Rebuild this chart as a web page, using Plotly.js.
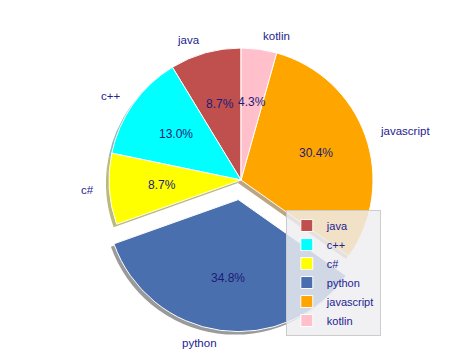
<!DOCTYPE html>
<html><head><meta charset="utf-8">
<script src="https://cdn.plot.ly/plotly-3.0.1.min.js"></script>
<style>html,body{margin:0;padding:0;background:#fff}#c{width:474px;height:356px}</style>
</head><body><div id="c"></div>
<script>
const labels = ["java", "c++", "c#", "python", "javascript", "kotlin"];
const counts = [2, 3, 2, 8, 7, 1];
const pulls = [0, 0, 0, 0.15, 0, 0];
const colors = ["#c0504d", "#00ffff", "#ffff00", "#4a6fae", "#ffa500", "#ffc0cb"];
const shadowColors = ["#8a5a58", "#5a9e9e", "#9e9e4a", "#707070", "#a08050", "#a08a8c"];

// layout geometry (pixels)
const W = 474, H = 356, CX = 241, CY = 180, R = 132;
const maxPull = Math.max(...pulls);
const half = R * (1 + maxPull);
const dom = {x: [(CX - half) / W, (CX + half) / W], y: [1 - (CY + half) / H, 1 - (CY - half) / H]};
const sx = 3 / W, sy = 3 / H;

const total = counts.reduce((a, b) => a + b, 0);
const rot = -360 * counts[0] / total;
const base = {type: "pie", labels: labels, values: counts, sort: false,
  direction: "counterclockwise", rotation: rot, pull: pulls, hoverinfo: "none"};

const shadow = Object.assign({}, base, {
  domain: {x: [dom.x[0] - sx, dom.x[1] - sx], y: [dom.y[0] - sy, dom.y[1] - sy]},
  marker: {colors: shadowColors, line: {width: 0}},
  opacity: 0.7, textinfo: "none", showlegend: false
});
const main = Object.assign({}, base, {
  domain: dom,
  marker: {colors: colors, line: {color: "#ffffff", width: 1}},
  textinfo: "none", showlegend: true
});

// text positions follow the wedge geometry (labels at 1.1R, percentages at 0.6R)
const font = "Liberation Sans, Arial, sans-serif";
const annotations = [];
let cum = 0;
counts.forEach((v, i) => {
  const a = (cum + v / 2) / total * 2 * Math.PI;   // ccw from top
  cum += v;
  const ux = -Math.sin(a), uy = -Math.cos(a);      // pixel direction (y down)
  const off = pulls[i] * R;
  const lx = CX + ux * (1.1 * R + off), ly = CY + uy * (1.1 * R + off);
  const px = CX + ux * (0.6 * R + off), py = CY + uy * (0.6 * R + off);
  annotations.push({xref: "paper", yref: "paper", x: lx / W, y: 1 - ly / H,
    text: labels[i], showarrow: false, xanchor: ux > 0 ? "left" : "right", yanchor: "middle",
    font: {family: font, size: 11.5, color: "#232390"}});
  annotations.push({xref: "paper", yref: "paper", x: px / W, y: 1 - py / H,
    text: (100 * v / total).toFixed(1) + "%", showarrow: false, xanchor: "center", yanchor: "middle",
    font: {family: font, size: 12, color: "#1c1c78"}});
});

Plotly.newPlot("c", [shadow, main], {
  width: W, height: H,
  margin: {l: 0, r: 0, t: 0, b: 0},
  paper_bgcolor: "#ffffff",
  showlegend: true,
  annotations: annotations,
  legend: {x: 0.603, y: 0.41, xanchor: "left", yanchor: "top",
    bgcolor: "rgba(238,238,242,0.82)", bordercolor: "#cccccc", borderwidth: 1,
    font: {family: font, size: 11, color: "#232390"},
    tracegroupgap: 0, itemwidth: 30}
}, {displayModeBar: false, staticPlot: true});
</script></body></html>
